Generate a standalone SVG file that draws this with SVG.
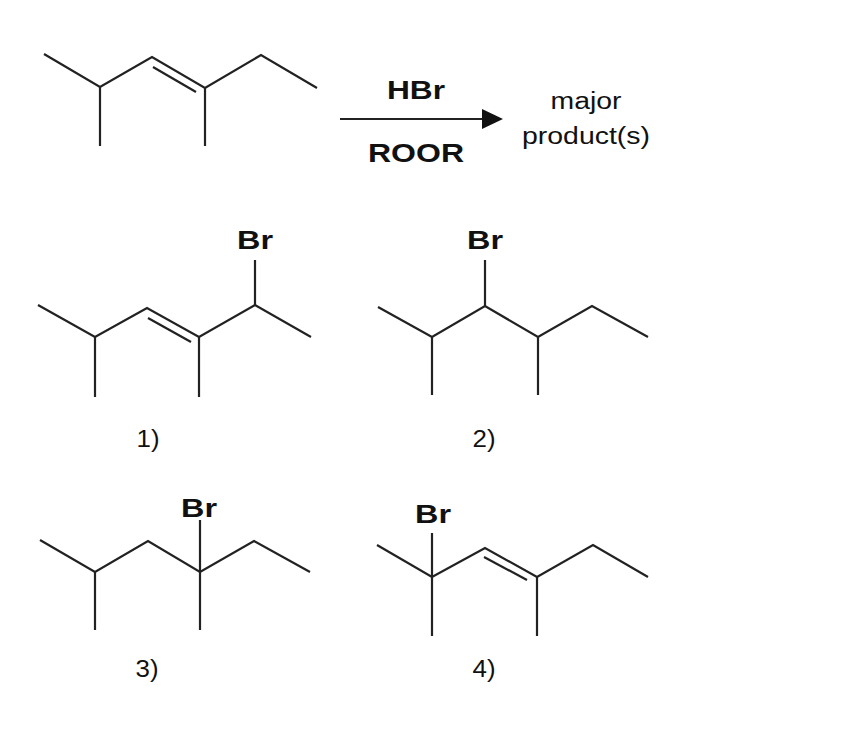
<svg xmlns="http://www.w3.org/2000/svg" width="846" height="744" viewBox="0 0 846 744">
<style>
.b{fill:none;stroke:#222;stroke-width:2.2;stroke-linejoin:miter}
.t{font-family:"Liberation Sans",Arial,sans-serif;fill:#111;text-anchor:middle}
.bold{font-weight:bold;font-size:25px}
.n{font-size:23px}
</style>
<rect width="846" height="744" fill="#fff"/>
<g id="reactant">
<polyline class="b" points="44,54 100,87 152,57 205,88 261,55 317,88"/>
<line class="b" x1="100" y1="87" x2="100" y2="146"/>
<line class="b" x1="205" y1="88" x2="205" y2="146"/>
<line class="b" x1="153" y1="67" x2="196" y2="92"/>
</g>
<g id="arrow">
<line class="b" x1="340" y1="119" x2="490" y2="119"/>
<polygon points="503,119 482,109 482,129" fill="#111"/>
<text class="t bold" x="416" y="99" textLength="58" lengthAdjust="spacingAndGlyphs">HBr</text>
<text class="t bold" x="416" y="162" textLength="96" lengthAdjust="spacingAndGlyphs">ROOR</text>
<text class="t n" x="586" y="109" textLength="71" lengthAdjust="spacingAndGlyphs">major</text>
<text class="t n" x="586" y="144" textLength="128" lengthAdjust="spacingAndGlyphs">product(s)</text>
</g>
<g id="p1">
<polyline class="b" points="38,305 95,337 147,308 199,337 255,305 311,337"/>
<line class="b" x1="95" y1="337" x2="95" y2="397"/>
<line class="b" x1="199" y1="337" x2="199" y2="397"/>
<line class="b" x1="148" y1="318" x2="191" y2="342"/>
<line class="b" x1="255" y1="305" x2="255" y2="260"/>
<text class="t bold" x="255" y="249" textLength="36" lengthAdjust="spacingAndGlyphs">Br</text>
<text class="t n" x="148" y="447" textLength="23" lengthAdjust="spacingAndGlyphs">1)</text>
</g>
<g id="p2">
<polyline class="b" points="378,307 432,337 485,306 538,337 592,306 648,337"/>
<line class="b" x1="432" y1="337" x2="432" y2="395"/>
<line class="b" x1="538" y1="337" x2="538" y2="395"/>
<line class="b" x1="485" y1="306" x2="485" y2="260"/>
<text class="t bold" x="485" y="249" textLength="36" lengthAdjust="spacingAndGlyphs">Br</text>
<text class="t n" x="484" y="447" textLength="23" lengthAdjust="spacingAndGlyphs">2)</text>
</g>
<g id="p3">
<polyline class="b" points="40,540 95,572 148,541 200,572 254,541 310,572"/>
<line class="b" x1="95" y1="572" x2="95" y2="630"/>
<line class="b" x1="200" y1="520" x2="200" y2="630"/>
<text class="t bold" x="199" y="517" textLength="36" lengthAdjust="spacingAndGlyphs">Br</text>
<text class="t n" x="147" y="677" textLength="23" lengthAdjust="spacingAndGlyphs">3)</text>
</g>
<g id="p4">
<polyline class="b" points="377,545 432,577 485,548 537,577 593,545 648,577"/>
<line class="b" x1="432" y1="533" x2="432" y2="636"/>
<line class="b" x1="537" y1="577" x2="537" y2="636"/>
<line class="b" x1="484" y1="557" x2="527" y2="580"/>
<text class="t bold" x="433" y="523" textLength="36" lengthAdjust="spacingAndGlyphs">Br</text>
<text class="t n" x="484" y="677" textLength="23" lengthAdjust="spacingAndGlyphs">4)</text>
</g>
</svg>
